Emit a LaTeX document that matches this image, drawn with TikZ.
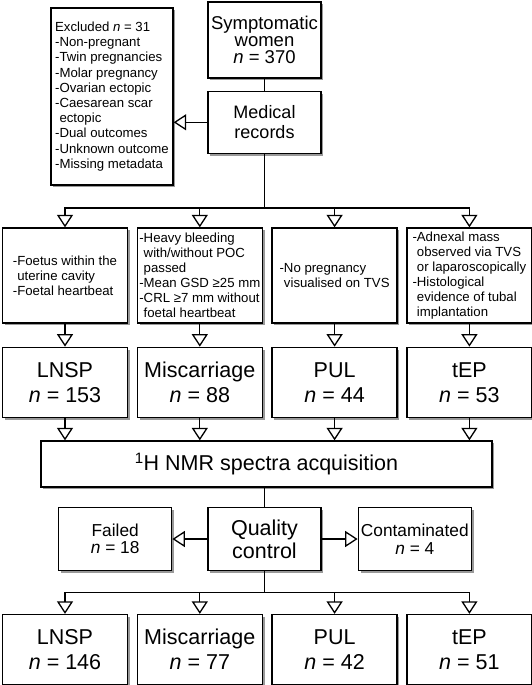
\documentclass[tikz,border=0pt]{standalone}
\usepackage{fontspec}
\setmainfont{Liberation Sans}
\usepackage{tikz}
\usetikzlibrary{arrows.meta,positioning,calc,shadows}

\begin{document}
\begin{tikzpicture}[
    x=1pt, y=1pt,
    node distance=8.5pt and 8.5pt,
    box/.style={draw, line width=1.3pt, align=center, inner sep=2pt, fill=white,
        drop shadow={shadow xshift=2.2pt, shadow yshift=-2.2pt, fill=black!40, opacity=1}},
    bigbox/.style={box, minimum width=113pt, font=\fontsize{18.5}{16.7}\selectfont},
    group/.style={box, minimum width=125pt, minimum height=70pt, font=\fontsize{21.5}{25}\selectfont},
    criteria/.style={box, align=left, minimum width=125pt, minimum height=95pt, font=\fontsize{13.2}{15}\selectfont},
    removed/.style={box, minimum width=113pt, minimum height=63pt, font=\fontsize{17.3}{17.5}\selectfont},
    arrow/.style={-{Triangle[width=16pt, length=12.5pt, fill=white]}, line width=1.3pt},
    link/.style={line width=1.3pt}
]
\useasboundingbox (0,0) rectangle (531,-685);

% Cohort
\node[bigbox, minimum height=76pt] (women) at (264.5,-40) {Symptomatic\\women\\\textit{n} = 370};
\node[bigbox, minimum height=62pt, font=\fontsize{18}{20}\selectfont, below=12pt of women] (records) {Medical\\records};
\node[box, align=left, minimum width=122pt, minimum height=177pt, font=\fontsize{13.2}{15.2}\selectfont] (excluded) at (112,-96.5)
    {Excluded \textit{n} = 31\\-Non-pregnant\\-Twin pregnancies\\-Molar pregnancy\\-Ovarian ectopic\\-Caesarean scar\\\hphantom{-}ectopic\\-Dual outcomes\\-Unknown outcome\\-Missing metadata};

% Diagnostic criteria
\node[criteria] (crit_lnsp) at (65,-275.5) {-Foetus within the\\\hphantom{-}uterine cavity\\-Foetal heartbeat};
\node[criteria, right=of crit_lnsp] (crit_misc) {-Heavy bleeding\\\hphantom{-}with/without POC\\\hphantom{-}passed\\-Mean GSD ≥25 mm\\-CRL ≥7 mm without\\\hphantom{-}foetal heartbeat};
\node[criteria, right=of crit_misc] (crit_pul) {-No pregnancy\\\hphantom{-}visualised on TVS};
\node[criteria, right=of crit_pul] (crit_tep) {-Adnexal mass\\\hphantom{-}observed via TVS\\\hphantom{-}or laparoscopically\\-Histological\\\hphantom{-}evidence of tubal\\\hphantom{-}implantation};

% Outcome groups
\node[group, below=23pt of crit_lnsp] (lnsp) {LNSP\\\textit{n} = 153};
\node[group, right=of lnsp] (misc) {Miscarriage\\\textit{n} = 88};
\node[group, right=of misc] (pul) {PUL\\\textit{n} = 44};
\node[group, right=of pul] (tep) {tEP\\\textit{n} = 53};

% Spectra and quality control
\node[box, minimum width=451pt, minimum height=46pt, font=\fontsize{21.5}{25}\selectfont] (nmr) at (266.5,-464) {\textsuperscript{1}H NMR spectra acquisition};
\node[group, minimum width=113pt, minimum height=63pt, font=\fontsize{21.5}{23.3}\selectfont] (qc) at (264.5,-539) {Quality\\control};
\node[removed, left=35pt of qc] (failed) {Failed\\\textit{n} = 18};
\node[removed, right=36pt of qc] (contam) {Contaminated\\\textit{n} = 4};

% Final groups
\node[group] (lnsp_final) at (65,-649.5) {LNSP\\\textit{n} = 146};
\node[group, right=of lnsp_final] (misc_final) {Miscarriage\\\textit{n} = 77};
\node[group, right=of misc_final] (pul_final) {PUL\\\textit{n} = 42};
\node[group, right=of pul_final] (tep_final) {tEP\\\textit{n} = 51};

% Arrows
\coordinate (fork1) at ($(records.south)+(0,-54)$);
\coordinate (fork2) at ($(qc.south)+(0,-21)$);
\draw[link] (women) -- (records);
\draw[arrow] (records.west) -- (records.west -| excluded.east);
\draw[link] (records) -- (fork1);
\foreach \c in {crit_lnsp, crit_misc, crit_pul, crit_tep}
    \draw[arrow] (fork1) -| (\c.north);
\draw[arrow] (crit_lnsp) -- (lnsp);
\draw[arrow] (crit_misc) -- (misc);
\draw[arrow] (crit_pul) -- (pul);
\draw[arrow] (crit_tep) -- (tep);
\foreach \g in {lnsp, misc, pul, tep}
    \draw[arrow] (\g.south) -- (\g.south |- nmr.north);
\draw[link] (qc.north |- nmr.south) -- (qc.north);
\draw[arrow] (qc) -- (failed);
\draw[arrow] (qc) -- (contam);
\draw[link] (qc) -- (fork2);
\foreach \g in {lnsp_final, misc_final, pul_final, tep_final}
    \draw[arrow] (fork2) -| (\g.north);

\end{tikzpicture}
\end{document}
